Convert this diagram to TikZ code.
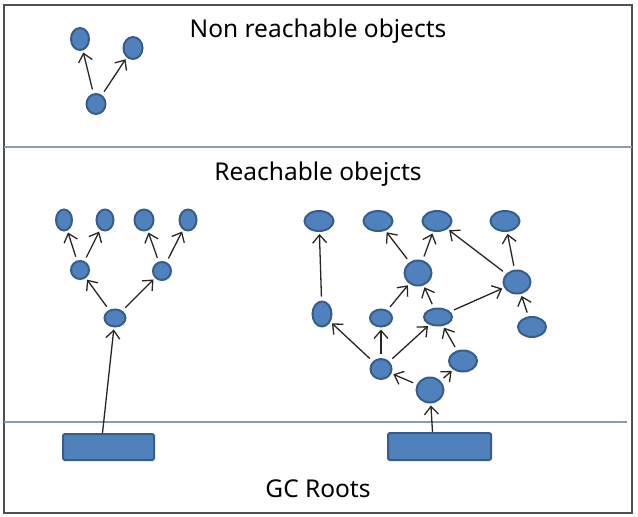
\documentclass[tikz,border=0pt]{standalone}
\usepackage{fontspec}
\setmainfont{Noto Sans}
\usetikzlibrary{arrows.meta,shapes.geometric}
\definecolor{objfill}{HTML}{4F81BD}
\definecolor{objline}{HTML}{385D8A}
\definecolor{divider}{HTML}{8A9CAC}
\definecolor{frame}{HTML}{505050}
\tikzset{
  obj/.style={ellipse,draw=objline,fill=objfill,line width=2pt,inner sep=0pt},
  root/.style={rectangle,draw=objline,fill=objfill,line width=2pt,rounded corners=1.5pt,inner sep=0pt},
  ref/.style={-{Straight Barb[length=8pt,width=14pt,line width=1.3pt]},line width=1.3pt,draw=black!85,shorten <=4pt,shorten >=2pt},
  title/.style={anchor=base,font=\fontsize{24.5}{28}\selectfont}
}
\begin{document}
\begin{tikzpicture}[x=1pt,y=-1pt]
\useasboundingbox (0,0) rectangle (638,517);
\draw[frame,line width=1.4pt] (4,5) rectangle (632,513);
\draw[divider,line width=1.2pt] (4,147) -- (632,147);
\draw[divider,line width=1.2pt] (4,422) -- (627,422);

\node[title] (tNon) at (318,37) {Non reachable objects};
\node[title] (tReach) at (318,180) {Reachable obejcts};
\node[title] (tRoots) at (318,497) {GC Roots};

% unreachable objects
\node[obj,minimum width=18pt,minimum height=22pt] (u1) at (80,39) {};
\node[obj,minimum width=19pt,minimum height=22pt] (u2) at (133,48) {};
\node[obj,minimum width=19pt,minimum height=20pt] (u3) at (96,104) {};
\draw[ref] (u3) -- (u1);
\draw[ref] (u3) -- (u2);

% gc roots
\node[root,minimum width=91pt,minimum height=26pt] (rootA) at (108.5,447) {};
\node[root,minimum width=103pt,minimum height=27pt] (rootB) at (439.5,446.5) {};

% left tree
\node[obj,minimum width=16pt,minimum height=21pt] (l1) at (64,220) {};
\node[obj,minimum width=17pt,minimum height=21pt] (l2) at (105,220) {};
\node[obj,minimum width=19pt,minimum height=21pt] (l3) at (144,220) {};
\node[obj,minimum width=17pt,minimum height=21pt] (l4) at (188,220) {};
\node[obj,minimum width=18pt,minimum height=18pt] (m1) at (80,270) {};
\node[obj,minimum width=18pt,minimum height=18pt] (m2) at (162,271) {};
\node[obj,minimum width=21pt,minimum height=17pt] (r1) at (115,318) {};
\draw[ref] (m1) -- (l1);
\draw[ref] (m1) -- (l2);
\draw[ref] (m2) -- (l3);
\draw[ref] (m2) -- (l4);
\draw[ref] (r1) -- (m1);
\draw[ref] (r1) -- (m2);
\draw[ref,shorten <=0pt] ([xshift=-6pt]rootA.north) -- (r1);

% right graph
\node[obj,minimum width=29pt,minimum height=20pt] (t1) at (319,221) {};
\node[obj,minimum width=29pt,minimum height=20pt] (t2) at (378,221) {};
\node[obj,minimum width=29pt,minimum height=20pt] (t3) at (437,221) {};
\node[obj,minimum width=29pt,minimum height=20pt] (t4) at (505,221) {};
\node[obj,minimum width=27pt,minimum height=25pt] (c1) at (418,273) {};
\node[obj,minimum width=27pt,minimum height=23pt] (c2) at (517,282) {};
\node[obj,minimum width=19pt,minimum height=25pt] (lv) at (322,314) {};
\node[obj,minimum width=22pt,minimum height=17pt] (sm) at (381,318) {};
\node[obj,minimum width=28pt,minimum height=17pt] (md) at (438,317) {};
\node[obj,minimum width=28pt,minimum height=20pt] (rb) at (532,327) {};
\node[obj,minimum width=21pt,minimum height=20pt] (lo) at (381,369) {};
\node[obj,minimum width=28pt,minimum height=21pt] (rm) at (463,361) {};
\node[obj,minimum width=27pt,minimum height=25pt] (bt) at (430,390) {};
\draw[ref] (lv) -- (t1);
\draw[ref] (c1) -- (t2);
\draw[ref] (c1) -- (t3);
\draw[ref] (c2) -- (t3);
\draw[ref] (c2) -- (t4);
\draw[ref] (rb) -- (c2);
\draw[ref] (md) -- (c2);
\draw[ref] (md) -- (c1);
\draw[ref] (sm) -- (c1);
\draw[ref] (lo) -- (sm);
\draw[ref] (lo) -- (lv);
\draw[ref] (lo) -- (md);
\draw[ref] (rm) -- (md);
\draw[ref] (bt) -- (lo);
\draw[ref] (bt) -- (rm);
\draw[ref,shorten <=0pt] ([xshift=-7pt]rootB.north) -- (bt);
\end{tikzpicture}
\end{document}
